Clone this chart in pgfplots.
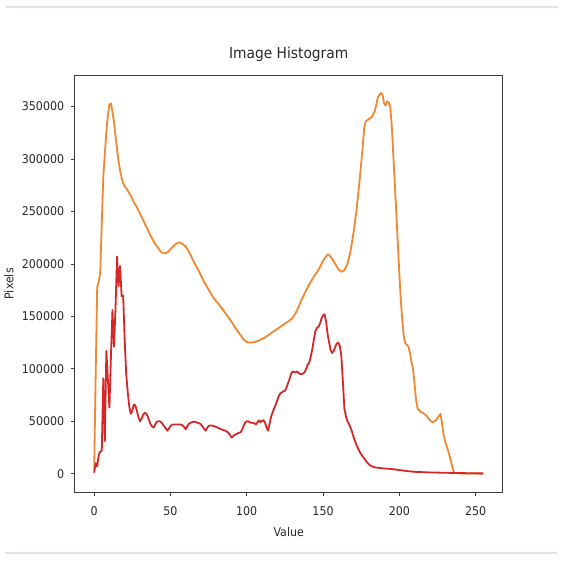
\documentclass[border=0pt]{standalone}
\usepackage{fontspec}
\setmainfont{DejaVu Sans}[FakeStretch=0.92]
\usepackage{pgfplots}
\pgfplotsset{compat=1.18}
\definecolor{corange}{RGB}{242,135,48}
\definecolor{cred}{RGB}{212,40,40}
\definecolor{sepcol}{RGB}{221,227,234}
\definecolor{axiscol}{RGB}{60,60,60}
\definecolor{txtcol}{RGB}{40,40,40}
\begin{document}
\begin{tikzpicture}
\path[use as bounding box] (0,0) rectangle (564bp,561bp);
\draw[sepcol, line width=2bp] (5.7bp,554.3bp) -- (558bp,554.3bp);
\draw[sepcol, line width=2bp] (5bp,7.7bp) -- (557bp,7.7bp);
\begin{axis}[
  at={(74.7bp,68.3bp)}, anchor=south west,
  scale only axis, width=428bp, height=417.7bp,
  xmin=-12.75, xmax=267.75, ymin=-18100, ymax=380100,
  xtick={0,50,...,250}, ytick={0,50000,...,350000},
  scaled y ticks=false,
  /pgf/number format/assume math mode=true,
  /pgf/number format/fixed,
  /pgf/number format/1000 sep={},
  tick align=outside, major tick length=3.5bp,
  xtick pos=bottom, ytick pos=left,
  tick style={axiscol, line width=0.8bp},
  axis line style={axiscol, line width=0.8bp},
  font=\fontsize{12bp}{14bp}\selectfont,
  ticklabel style={text=txtcol, font=\fontsize{12bp}{14bp}\selectfont},
  xticklabel style={anchor=north, inner sep=0pt, yshift=-10.5bp},
  yticklabel style={anchor=east, inner sep=0pt, xshift=-6.9bp},
  title={Image Histogram},
  title style={at={(axis description cs:0.5,1.0263)}, anchor=base, text=txtcol, font=\fontsize{15bp}{18bp}\selectfont},
  xlabel={Value},
  xlabel style={at={(axis description cs:0.5,-0.0934)}, anchor=center, text=txtcol},
  ylabel={Pixels},
  ylabel style={at={(axis description cs:-0.1535,0.5)}, anchor=center, text=txtcol},
]
\addplot[corange, line width=1.8bp, line join=round] table {
0 3000
1 95000
2 178000
3 183000
4 192000
5 240000
6 283000
7 305000
8 326000
9 342000
10 352000
11 353000
12 345000
13 335000
14 322000
15 309000
16 298000
17 289000
18 282000
19 277000
20 274000
22 270000
24 265000
26 259000
28 254000
30 248000
32 242000
34 236000
36 230000
38 224000
40 219000
42 215000
44 211000
46 210000
48 211000
50 214000
52 217000
54 219500
56 220500
58 219000
60 216500
62 212000
64 206000
66 200000
68 195000
70 189000
72 183000
74 178000
76 173000
78 168000
80 164500
82 161000
84 157000
86 153000
88 149000
90 145000
92 140000
94 136000
96 132000
98 128000
100 125500
102 125000
104 125000
106 126000
108 127000
110 128500
112 130000
114 132000
116 134000
118 136000
120 138000
122 140000
124 142000
126 144000
128 146000
130 148500
132 153000
134 159000
136 166000
138 172000
140 178000
142 183000
144 188000
146 192000
148 197000
150 203000
152 207000
153 209000
154 208500
156 205000
158 200000
160 195000
162 192500
164 194000
166 200000
168 212000
170 230000
172 252000
174 280000
176 312000
177 330000
178 336000
180 338000
182 340000
184 346000
186 359000
188 363000
189 361000
190 353000
191 351000
192 355000
193 354000
194 350000
195 333000
196 305000
197 278000
198 249000
199 220000
200 191000
201 165000
202 145000
203 130000
204 124000
205 123000
206 121000
207 115000
208 106000
209 100000
210 85000
211 70000
212 62000
214 59000
216 57500
218 55000
220 51000
222 49000
224 51000
226 55000
227 57000
228 48000
229 37000
230 31000
232 22000
234 11000
235 5000
236 1000
238 500
240 300
255 0
};
\addplot[cred, line width=1.8bp, line join=round] table {
0 1000
1 10000
2 7000
3 18000
4 21000
5 22000
6 91000
7 31000
8 117000
9 90000
10 63000
11 112000
12 156000
13 121000
14 158000
15 207000
16 179000
17 198000
18 169000
19 170000
20 128000
21 95000
22 78000
23 64000
24 57000
25 60000
26 66000
27 65000
28 60000
29 54000
30 50000
31 52000
32 56000
33 58000
34 57500
35 55000
36 51000
37 47000
38 45000
39 44000
40 47000
41 49500
42 50000
43 50000
44 49000
45 47000
46 45000
47 43000
48 41000
49 43000
50 45500
51 46500
52 47000
53 47000
54 47000
55 47000
56 47000
57 47000
58 46000
59 44500
60 42500
61 45000
62 47500
63 48500
64 49000
65 49500
66 49500
67 49000
68 48500
69 48000
70 47000
71 45000
72 43000
73 41000
74 43500
75 45500
76 46000
77 46000
78 45500
79 45000
80 44500
81 44000
82 43000
83 42500
84 42000
85 41500
86 41000
87 40000
88 39000
89 37000
90 34500
91 35500
92 37000
93 37500
94 38500
95 39000
96 39500
97 42000
98 46000
99 49000
100 50000
101 50000
102 49000
103 48500
104 48500
105 48000
106 47000
107 49000
108 50800
109 49000
110 50500
111 51000
112 48500
113 44000
114 41000
115 48000
116 54500
117 58500
118 62500
119 66000
120 70000
121 74000
122 76500
123 77500
124 78500
125 79000
126 82000
127 86000
128 90000
129 95000
130 97500
131 97000
132 96500
133 97500
134 96000
135 95000
136 95000
137 95500
138 97000
139 100000
140 104000
141 106000
142 112000
143 119000
144 128000
145 136000
146 139000
147 140000
148 143000
149 148000
150 151000
151 152000
152 145000
153 133000
154 125000
155 118000
156 115000
157 117000
158 121000
159 124000
160 125000
161 122000
162 112000
163 88000
164 62000
165 55000
166 50000
167 47500
168 44000
169 40000
170 35000
171 31000
172 27000
173 24000
174 21000
175 18500
176 16500
177 14500
178 12500
179 10500
180 9000
181 8000
182 7000
183 6500
184 6000
186 5700
188 5300
190 5000
195 4500
200 3500
205 2500
210 1800
220 1200
230 900
240 600
255 300
};
\end{axis}
\end{tikzpicture}
\end{document}
